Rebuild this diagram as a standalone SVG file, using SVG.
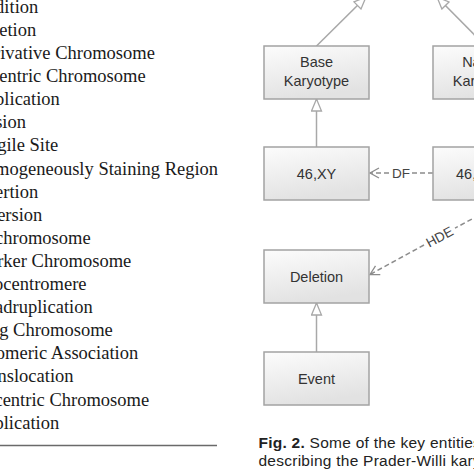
<svg xmlns="http://www.w3.org/2000/svg" width="474" height="474" viewBox="0 0 474 474">
<style>
.list{font-family:"Liberation Serif","Times New Roman",serif;font-size:18.5px;fill:#1a1a1a}
.box{fill:url(#g);stroke:#a3a3a3;stroke-width:1.5}
.lbl{font-family:"Liberation Sans",Arial,sans-serif;font-size:14.5px;fill:#333;text-anchor:middle}
.solid{stroke:#a8a8a8;stroke-width:1.5;fill:none}
.dash{stroke:#8c8c8c;stroke-width:1.5;fill:none;stroke-dasharray:5,3}
.elbl{font-family:"Liberation Sans",Arial,sans-serif;font-size:13.5px;fill:#444;text-anchor:middle}
.cap{font-family:"Liberation Sans",Arial,sans-serif;font-size:15.5px;letter-spacing:0.25px;fill:#222}
</style>
<defs>
<linearGradient id="g" x1="0" y1="0" x2="0.3" y2="1">
<stop offset="0" stop-color="#fcfcfc"/>
<stop offset="1" stop-color="#e2e2e2"/>
</linearGradient>
<marker id="tri" markerUnits="userSpaceOnUse" markerWidth="14" markerHeight="12" refX="12" refY="5" orient="auto" viewBox="-1 -1 14 12">
<path d="M0,0 L12,5 L0,10 Z" fill="#fff" stroke="#a8a8a8" stroke-width="1.3"/>
</marker>
<marker id="open" markerUnits="userSpaceOnUse" markerWidth="12" markerHeight="12" refX="9" refY="5" orient="auto" viewBox="-1 -1 12 12">
<path d="M0,0 L9,5 L0,10" fill="none" stroke="#8c8c8c" stroke-width="1.3" stroke-dasharray="none"/>
</marker>
</defs>
<rect width="474" height="474" fill="#fff"/>
<g id="list">
<text class="list" x="-27.5" y="12.8">Addition</text>
<text class="list" x="-27.5" y="35.9">Deletion</text>
<text class="list" x="-27.5" y="59.0">Derivative Chromosome</text>
<text class="list" x="-27.5" y="82.1">Dicentric Chromosome</text>
<text class="list" x="-27.5" y="105.2">Duplication</text>
<text class="list" x="-27.5" y="128.3">Fission</text>
<text class="list" x="-27.5" y="151.4">Fragile Site</text>
<text class="list" x="-27.5" y="174.5">Homogeneously Staining Region</text>
<text class="list" x="-27.5" y="197.6">Insertion</text>
<text class="list" x="-27.5" y="220.7">Inversion</text>
<text class="list" x="-27.5" y="243.8">Isochromosome</text>
<text class="list" x="-27.5" y="266.9">Marker Chromosome</text>
<text class="list" x="-27.5" y="290.0">Neocentromere</text>
<text class="list" x="-27.5" y="313.1">Quadruplication</text>
<text class="list" x="-27.5" y="336.2">Ring Chromosome</text>
<text class="list" x="-27.5" y="359.3">Telomeric Association</text>
<text class="list" x="-27.5" y="382.4">Translocation</text>
<text class="list" x="-27.5" y="405.5">Tricentric Chromosome</text>
<text class="list" x="-27.5" y="428.6">Triplication</text>
<line x1="0" y1="445.5" x2="217" y2="445.5" stroke="#6a6a6a" stroke-width="1.5"/>
</g>
<g id="connectors">
<line class="solid" x1="316.5" y1="46" x2="366" y2="-3" marker-end="url(#tri)"/>
<line class="solid" x1="485.5" y1="46" x2="437" y2="-3" marker-end="url(#tri)"/>
<line class="solid" x1="316.5" y1="147" x2="316.5" y2="99" marker-end="url(#tri)"/>
<line class="solid" x1="316.5" y1="352" x2="316.5" y2="303" marker-end="url(#tri)"/>
<line class="dash" x1="433" y1="173" x2="412" y2="173"/>
<line class="dash" x1="389" y1="173" x2="370" y2="173" marker-end="url(#open)"/>
<text class="elbl" x="401" y="178">DF</text>
<line class="dash" x1="507" y1="200" x2="455" y2="228.2"/>
<line class="dash" x1="424" y1="245" x2="370" y2="274.5" marker-end="url(#open)"/>
<text class="elbl" transform="translate(439.5,236.8) rotate(-28.5)" y="4.8">HDE</text>
</g>
<g id="base-karyotype">
<rect class="box" x="264" y="46" width="105" height="53"/>
<text class="lbl" x="316.5" y="67">Base</text>
<text class="lbl" x="316.5" y="86">Karyotype</text>
</g>
<g id="named-karyotype">
<rect class="box" x="433" y="46" width="105" height="53"/>
<text class="lbl" x="485.5" y="67">Named</text>
<text class="lbl" x="485.5" y="86">Karyotype</text>
</g>
<g id="n46xy">
<rect class="box" x="264" y="147" width="105" height="53"/>
<text class="lbl" x="316.5" y="178.5">46,XY</text>
</g>
<g id="n46right">
<rect class="box" x="433" y="147" width="105" height="53"/>
<text class="lbl" x="456" y="178.5" style="text-anchor:start">46,XY</text>
</g>
<g id="deletion">
<rect class="box" x="264" y="250" width="105" height="53"/>
<text class="lbl" x="316.5" y="281.5">Deletion</text>
</g>
<g id="event">
<rect class="box" x="264" y="352" width="105" height="53"/>
<text class="lbl" x="316.5" y="384">Event</text>
</g>
<g id="caption">
<text class="cap" x="258.5" y="448"><tspan font-weight="bold">Fig. 2.</tspan> Some of the key entities</text>
<text class="cap" x="258.5" y="465.5">describing the Prader-Willi karyotype</text>
</g>
</svg>
